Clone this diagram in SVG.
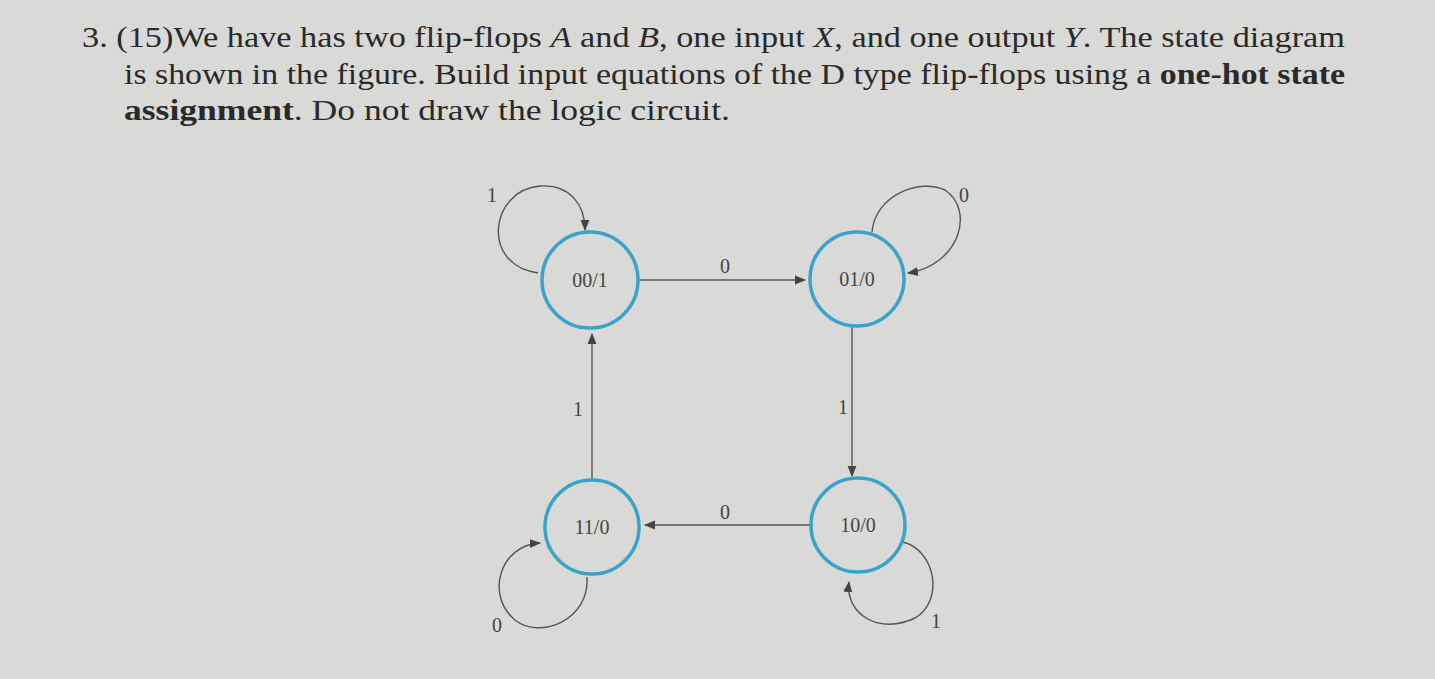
<svg xmlns="http://www.w3.org/2000/svg" width="1435" height="679" viewBox="0 0 1435 679">
<style>
.t{font-family:"Liberation Serif",serif;font-size:30px;fill:#2a2a2a}
.n{fill:none;stroke:#3aa3c9;stroke-width:3.5}
.l{font-family:"Liberation Serif",serif;font-size:20px;fill:#444;text-anchor:middle}
.c{fill:none;stroke:#555;stroke-width:1.4}
</style>
<defs><marker id="a" viewBox="0 0 10 10" refX="9" refY="5" markerWidth="8" markerHeight="8" orient="auto"><path d="M0,1L10,5L0,9z" fill="#444"/></marker></defs>
<rect width="1435" height="679" fill="#d9d9d7"/>
<text class="t" x="82" y="47" textLength="1263" lengthAdjust="spacingAndGlyphs">3. (15)We have has two flip-flops <tspan font-style="italic">A</tspan> and <tspan font-style="italic">B</tspan>, one input <tspan font-style="italic">X</tspan>, and one output <tspan font-style="italic">Y</tspan>. The state diagram</text>
<text class="t" x="124" y="84" textLength="1221" lengthAdjust="spacingAndGlyphs">is shown in the figure. Build input equations of the D type flip-flops using a <tspan font-weight="bold">one-hot state</tspan></text>
<text class="t" x="124" y="120" textLength="606" lengthAdjust="spacingAndGlyphs"><tspan font-weight="bold">assignment</tspan>. Do not draw the logic circuit.</text>
<g id="connectors">
<path class="c" d="M639,280H805" marker-end="url(#a)"/>
<path class="c" d="M852,326V476" marker-end="url(#a)"/>
<path class="c" d="M810,525H645" marker-end="url(#a)"/>
<path class="c" d="M592,480V334" marker-end="url(#a)"/>
<path class="c" d="M538,273C480,265 490,190 540,186C570,184 585,205 585,230" marker-end="url(#a)"/>
<path class="c" d="M872,232C875,195 920,178 945,190C975,210 960,265 908,273" marker-end="url(#a)"/>
<path class="c" d="M587,577C590,620 540,640 515,620C485,595 500,545 540,543" marker-end="url(#a)"/>
<path class="c" d="M903,542C935,550 945,600 915,618C880,635 845,615 849,582" marker-end="url(#a)"/>
</g>
<g id="s00"><circle class="n" cx="590" cy="280" r="48"/><text class="l" x="590" y="287">00/1</text></g>
<g id="s01"><circle class="n" cx="857" cy="279" r="47"/><text class="l" x="857" y="286">01/0</text></g>
<g id="s11"><circle class="n" cx="592" cy="527" r="47"/><text class="l" x="592" y="534">11/0</text></g>
<g id="s10"><circle class="n" cx="858" cy="525" r="47"/><text class="l" x="858" y="532">10/0</text></g>
<g id="labels">
<text class="l" x="725" y="273">0</text>
<text class="l" x="843" y="414">1</text>
<text class="l" x="725" y="519">0</text>
<text class="l" x="578" y="416">1</text>
<text class="l" x="492" y="202">1</text>
<text class="l" x="964" y="202">0</text>
<text class="l" x="497" y="632">0</text>
<text class="l" x="936" y="628">1</text>
</g>
</svg>
